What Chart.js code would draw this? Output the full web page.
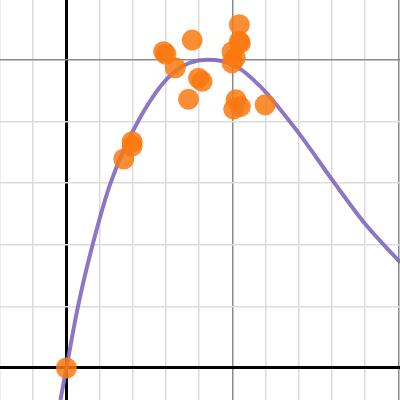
<!DOCTYPE html>
<html>
<head>
<meta charset="utf-8">
<script src="https://cdn.jsdelivr.net/npm/chart.js@4"></script>
<style>
  html, body { margin: 0; padding: 0; background: #fff; }
  #wrap { width: 400px; height: 400px; }
</style>
</head>
<body>
<div id="wrap"><canvas id="plot"></canvas></div>
<script>
// curve
const curveX = [-0.18, 0, 0.35, 0.79, 1.33, 2.23, 3.22, 4.25, 5.03, 5.84, 7.0, 8.05, 9.01, 10.06];
const curveY = [-0.52, 0, 1.0, 2.0, 3.0, 4.07, 4.79, 5.0, 4.92, 4.57, 3.81, 3.02, 2.33, 1.71];

// scatter points
const pointX = [0, 1.73, 1.98, 1.98, 2.93, 3.00, 3.79, 3.28, 3.98, 4.09, 3.68, 5.21, 5.21, 5.24, 4.99, 5.09, 4.99, 5.11, 5.04, 5.24, 5.99];
const pointY = [0, 3.39, 3.60, 3.67, 5.13, 5.09, 5.32, 4.87, 4.70, 4.65, 4.36, 5.57, 5.30, 5.27, 5.13, 5.03, 4.95, 4.35, 4.20, 4.24, 4.27];

const xTicks = [-2, -1, 0, 1, 2, 3, 4, 5, 6, 7, 8, 9, 10];
const yTicks = [0, 1, 2, 3, 4, 5];

const toXY = (xs, ys) => xs.map((x, i) => ({ x: x, y: ys[i] }));

function gridColor(ctx) {
  const v = ctx.tick ? ctx.tick.value : null;
  if (v === 0) return '#000';
  if (v % 5 === 0) return '#8a8a8a';
  return '#dcdcdc';
}
function gridWidth(ctx) {
  const v = ctx.tick ? ctx.tick.value : null;
  return v === 0 ? 3 : 1.5;
}

new Chart(document.getElementById('plot'), {
  type: 'scatter',
  data: {
    datasets: [
      {
        data: toXY(pointX, pointY),
        backgroundColor: 'rgba(250, 121, 16, 0.85)',
        borderWidth: 0,
        pointRadius: 10.5,
        pointHoverRadius: 10.5,
        order: 0
      },
      {
        data: toXY(curveX, curveY),
        showLine: true,
        borderColor: 'rgba(128, 104, 190, 0.9)',
        borderWidth: 4,
        pointRadius: 0,
        cubicInterpolationMode: 'monotone',
        order: 1
      }
    ]
  },
  options: {
    responsive: true,
    maintainAspectRatio: false,
    animation: false,
    layout: { padding: 0, autoPadding: false },
    scales: {
      x: {
        type: 'linear',
        min: -2,
        max: 10.05,
        afterBuildTicks: (axis) => { axis.ticks = xTicks.map((v) => ({ value: v })); },
        ticks: { display: false, padding: 0 },
        border: { display: false },
        grid: { color: gridColor, lineWidth: gridWidth, drawTicks: false, tickLength: 0 }
      },
      y: {
        type: 'linear',
        min: -0.52,
        max: 5.97,
        afterBuildTicks: (axis) => { axis.ticks = yTicks.map((v) => ({ value: v })); },
        ticks: { display: false, padding: 0 },
        border: { display: false },
        grid: { color: gridColor, lineWidth: gridWidth, drawTicks: false, tickLength: 0 }
      }
    },
    plugins: {
      legend: { display: false },
      tooltip: { enabled: false }
    }
  }
});
</script>
</body>
</html>
